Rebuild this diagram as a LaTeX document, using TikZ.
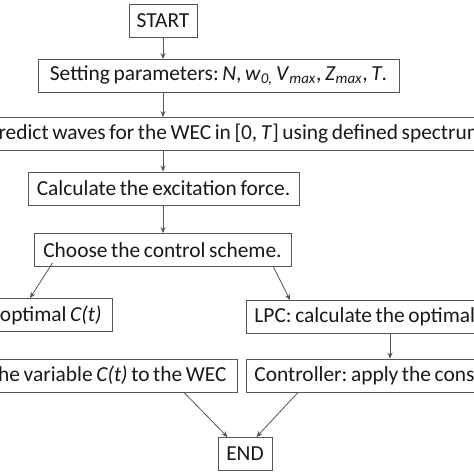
\documentclass[tikz,border=0pt]{standalone}
\usepackage{fontspec}
\setmainfont{Carlito}[WordSpace=0.75]
\usetikzlibrary{
  calc, % For coordinate calculations
  arrows.meta % For arrow tips
}
\definecolor{boxline}{RGB}{85,85,85}
\definecolor{ink}{RGB}{25,25,25}
\frenchspacing

\begin{document}
\begin{tikzpicture}[
      x=1pt, y=-1pt,
      >={Stealth[length=6pt,width=5pt]}, % Default arrow tip
      stepbox/.style={draw=boxline, line width=0.9pt, text=ink,
        minimum height=33pt, inner ysep=0pt,
        font=\fontsize{21.4}{25}\selectfont}, % Style for the boxes
      flow/.style={->, boxline, line width=0.8pt}, % Style for connectors
    ]

    % Bildrand
    \path[use as bounding box, clip] (0,0) rectangle (474,474);
    \fill[white] (0,0) rectangle (474,474);

    % Kästen
    \node[stepbox, minimum width=68pt] (start) at (163,20.5) {START};
    \node[stepbox, minimum width=361pt] (params) at (218.5,76)
      {Setting parameters: \textit{N}, \textit{w}\textsubscript{\textit{0,}} \textit{V}\textsubscript{\textit{max}}, \textit{Z}\textsubscript{\textit{max}}, \textit{T}.};
    \node[stepbox, anchor=west, inner xsep=11pt] (predict) at (-24,134)
      {Predict waves for the WEC in [0, \textit{T}] using defined spectrum.};
    \node[stepbox, minimum width=271pt] (calc) at (163.5,188.5)
      {Calculate the excitation force.};
    \node[stepbox, minimum width=257pt] (choose) at (162.5,250)
      {Choose the control scheme.};
    \node[stepbox, anchor=east, inner xsep=11pt, text width=150pt, align=flush right] (mpc) at (113,315)
      {optimal \textit{C(t)}};
    \node[stepbox, anchor=west, inner xsep=8pt, text width=300pt, align=flush left] (lpc) at (246,317)
      {LPC: calculate the optimal};
    \node[stepbox, anchor=east, inner xsep=11pt, text width=280pt, align=flush right] (apply) at (238,375.5)
      {the variable \textit{C(t)} to the WEC};
    \node[stepbox, anchor=west, inner xsep=8pt, text width=300pt, align=flush left] (ctrl) at (246,375.5)
      {Controller: apply the cons};
    \node[stepbox, minimum width=54pt] (end) at (245,454) {END};

    % Pfeile
    \draw[flow] (start) -- (start |- params.north);
    \draw[flow] (params.south -| start) -- (predict.north -| start);
    \draw[flow] (predict.south -| start) -- (calc.north -| start);
    \draw[flow] (calc.south -| start) -- (choose.north -| start);
    \draw[flow] ($(choose.south west)+(19,-4)$) -- ($(mpc.north east)+(-83,0)$);
    \draw[flow] ($(choose.south east)+(-18,0)$) -- ($(lpc.north west)+(44,0)$);
    \draw[flow] ($(lpc.south west)+(144,0)$) -- ($(ctrl.north west)+(144,0)$);
    \draw[flow] ($(apply.south east)+(-54,0)$) -- ($(end.north west)+(10,0)$);
    \draw[flow] ($(ctrl.south west)+(52,0)$) -- ($(end.north east)+(-16,0)$);
  \end{tikzpicture}
\end{document}
